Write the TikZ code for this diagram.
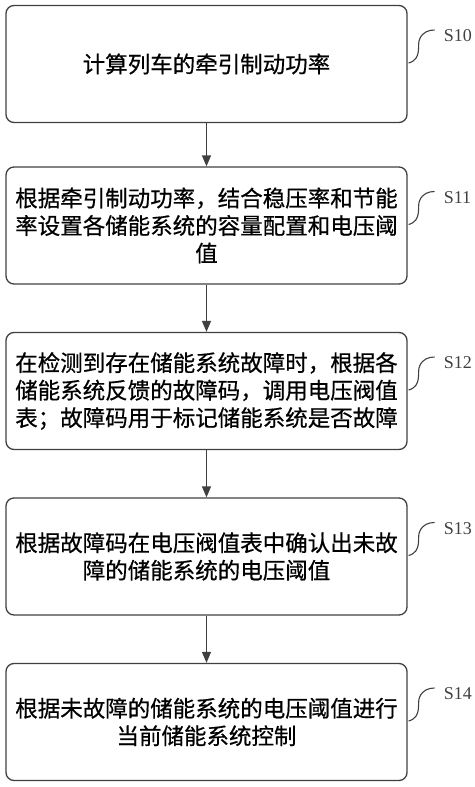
\documentclass[tikz,border=0pt]{standalone}
\usepackage{fontspec}
\setmainfont{Liberation Serif}
\newfontfamily\cjk[FakeBold=0.6]{Noto Sans CJK SC}
\usetikzlibrary{arrows.meta,calc}
\definecolor{ln}{HTML}{404040}
\tikzset{
  stepbox/.style={draw=ln, line width=1.3pt, rounded corners=8pt, minimum width=401pt, minimum height=117pt, inner sep=0pt, align=center, text width=395pt, font=\cjk\fontsize{22.5}{27.5}\selectfont, text=black},
  flow/.style={draw=ln, line width=1.3pt, -{Triangle[length=11pt,width=9pt]}},
  squig/.style={draw=ln, line width=1.1pt},
  steplabel/.style={anchor=west, inner sep=0pt, font=\fontsize{18}{21}\selectfont, text=ln}
}
\begin{document}
\begin{tikzpicture}[x=1pt,y=-1pt]
\useasboundingbox (0,0) rectangle (474,787);
\node[stepbox] (b1) at (206.5,64) {计算列车的牵引制动功率};
\node[stepbox] (b2) at (206.5,225.5) {根据牵引制动功率，结合稳压率和节能\\率设置各储能系统的容量配置和电压阈\\值};
\node[stepbox] (b3) at (206.5,391) {在检测到存在储能系统故障时，根据各\\储能系统反馈的故障码，调用电压阀值\\表；故障码用于标记储能系统是否故障};
\node[stepbox] (b4) at (206.5,556.5) {根据故障码在电压阀值表中确认出未故\\障的储能系统的电压阈值};
\node[stepbox] (b5) at (206.5,722) {根据未故障的储能系统的电压阈值进行\\当前储能系统控制};
\foreach \a/\b in {b1/b2,b2/b3,b3/b4,b4/b5}{
  \draw[flow] (\a.south) -- (\b.north);
}
\foreach \b/\t in {b1/S10,b2/S11,b3/S12,b4/S13,b5/S14}{
  \coordinate (\b s) at ($(\b.east)+(1,-1)$);
  \coordinate (\b e) at ($(\b.east)+(27,-34)$);
  \draw[squig] (\b s) .. controls ($(\b s)+(14,-4)$) and ($(\b s)+(8,-18)$) .. ($(\b s)+(11,-24)$) .. controls ($(\b s)+(14,-31)$) and ($(\b s)+(20,-33)$) .. (\b e);
  \node[steplabel] (\b l) at ($(\b.east)+(36,-28)$) {\t};
}
\end{tikzpicture}
\end{document}
